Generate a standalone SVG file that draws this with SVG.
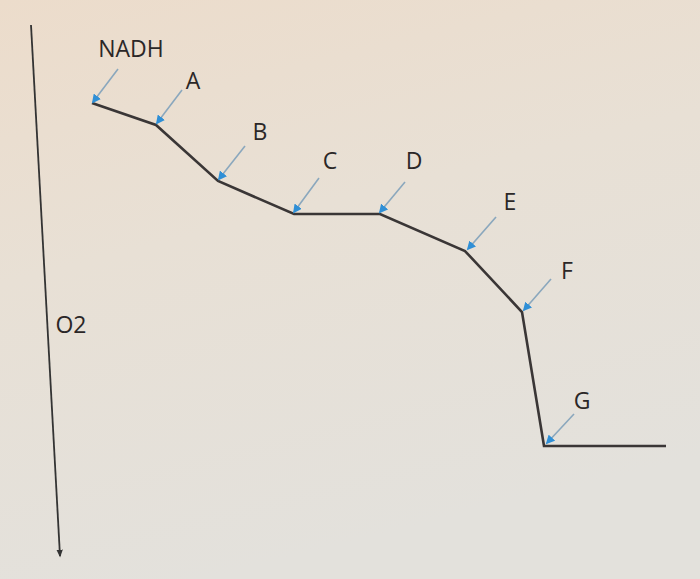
<svg xmlns="http://www.w3.org/2000/svg" width="700" height="579" viewBox="0 0 700 579">
<defs>
<linearGradient id="bg" x1="0" y1="0" x2="0.3" y2="1">
<stop offset="0" stop-color="#ecdccb"/>
<stop offset="0.45" stop-color="#e8e0d5"/>
<stop offset="1" stop-color="#e3e1dc"/>
</linearGradient>
<marker id="bh" viewBox="0 0 10 10" refX="8" refY="5" markerWidth="9" markerHeight="9" orient="auto" markerUnits="userSpaceOnUse">
<path d="M0,0 L10,5 L0,10 z" fill="#2f8fd6"/>
</marker>
<marker id="kh" viewBox="0 0 10 10" refX="8" refY="5" markerWidth="8" markerHeight="8" orient="auto" markerUnits="userSpaceOnUse">
<path d="M0,1 L10,5 L0,9 z" fill="#333"/>
</marker>
<style>
.lbl{font-family:"Open Sans","Liberation Sans",sans-serif;font-size:23px;fill:#2b2727;text-anchor:middle}
.ptr{stroke:#8aa7bd;stroke-width:1.6;fill:none;marker-end:url(#bh)}
.main{stroke:#3a3636;stroke-width:2.6;fill:none;stroke-linejoin:miter}
</style>
</defs>
<rect width="700" height="579" fill="url(#bg)"/>
<g id="axis">
<line x1="31" y1="25" x2="60" y2="556" stroke="#333" stroke-width="1.8" marker-end="url(#kh)"/>
<text class="lbl" x="71" y="333">O2</text>
</g>
<g id="connectors">
<polyline class="main" points="92,103 156,125 218,181 294,214 380,214 465,251 522,312 544,446 666,446"/>
</g>
<g id="pointers">
<line class="ptr" x1="118" y1="69" x2="93" y2="102"/>
<line class="ptr" x1="182" y1="90" x2="157" y2="123"/>
<line class="ptr" x1="245" y1="146" x2="219" y2="179"/>
<line class="ptr" x1="319" y1="178" x2="294" y2="212"/>
<line class="ptr" x1="405" y1="182" x2="380" y2="212"/>
<line class="ptr" x1="496" y1="217" x2="468" y2="249"/>
<line class="ptr" x1="551" y1="279" x2="524" y2="310"/>
<line class="ptr" x1="574" y1="414" x2="547" y2="443"/>
</g>
<g id="nadh"><text class="lbl" x="131" y="57">NADH</text></g>
<g id="a"><text class="lbl" x="193" y="89">A</text></g>
<g id="b"><text class="lbl" x="260" y="140">B</text></g>
<g id="c"><text class="lbl" x="330" y="169">C</text></g>
<g id="d"><text class="lbl" x="414" y="169">D</text></g>
<g id="e"><text class="lbl" x="510" y="210">E</text></g>
<g id="f"><text class="lbl" x="567" y="279">F</text></g>
<g id="g"><text class="lbl" x="582" y="409">G</text></g>
</svg>
